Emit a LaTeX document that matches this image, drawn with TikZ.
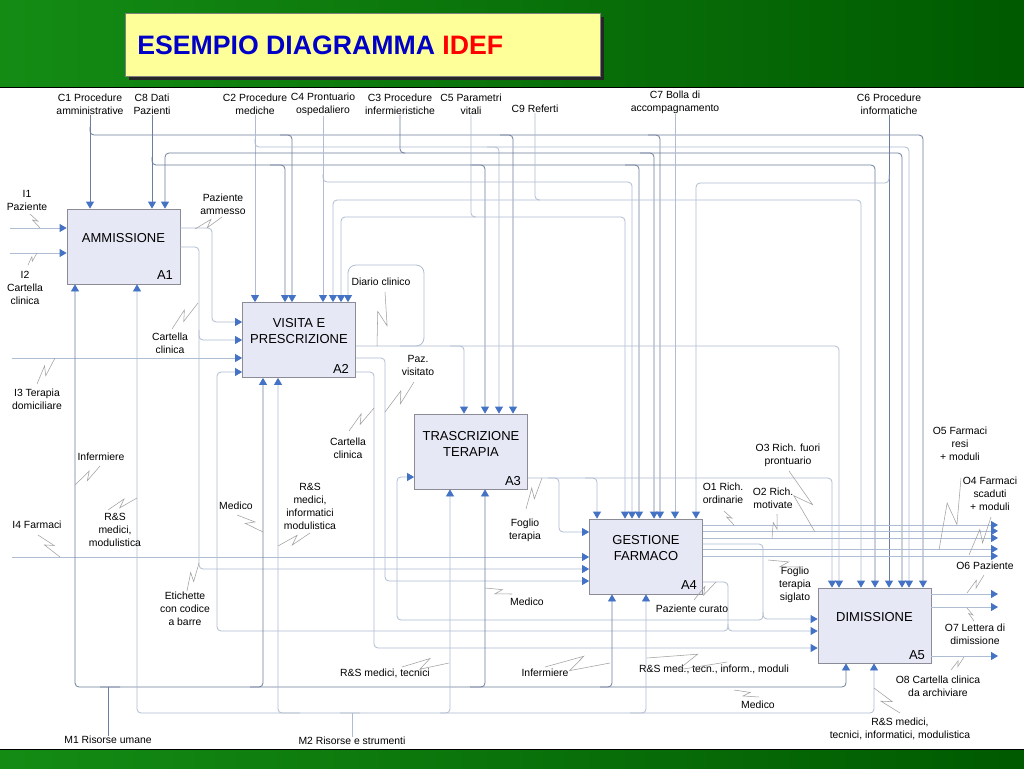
\documentclass[tikz,border=0pt]{standalone}
\usepackage{fontspec}
\setmainfont{Liberation Sans}
\usetikzlibrary{arrows.meta,calc}
\definecolor{arrowblue}{RGB}{68,114,196}
\definecolor{lnlight}{RGB}{175,189,210}
\definecolor{lndark}{RGB}{108,126,155}
\definecolor{boxfill}{RGB}{230,233,245}
\definecolor{boxdraw}{RGB}{140,140,150}
\definecolor{titleyel}{RGB}{255,255,153}
\definecolor{titleblue}{RGB}{0,0,200}
\definecolor{gleft}{RGB}{20,140,20}
\definecolor{gright}{RGB}{0,90,0}
\newcommand\sqz[2]{\draw[sqs] (#1) -- ($(#1)!0.62!12:(#2)$) -- ($(#1)!0.38!-12:(#2)$) -- (#2);}
\begin{document}
\begin{tikzpicture}[x=0.75pt,y=-0.75pt,
  abox/.style={draw=boxdraw,fill=boxfill,line width=0.6pt,minimum width=84.75pt,minimum height=56.25pt,inner sep=0pt},
  btxt/.style={font=\fontsize{9.75}{12}\selectfont,align=center,inner sep=0pt},
  lbl/.style={font=\fontsize{7.8}{9.75}\selectfont,align=center,inner sep=0pt},
  ln/.style={draw=lnlight,line width=0.6pt,rounded corners=3pt},
  lnd/.style={ln,draw=lndark},
  arr/.style={-{Triangle[width=6pt,length=5.25pt,color=arrowblue]}},
  sqs/.style={draw=gray!75,line width=0.4pt}]
\useasboundingbox (0,0) rectangle (1024,768);
\fill[white] (0,0) rectangle (1024,768);
% header and footer
\shade[left color=gleft,right color=gright] (0,0) rectangle (1024,87);
\draw[black,line width=1pt] (0,87.5) -- (1024,87.5);
\shade[left color=gleft,right color=gright] (0,750) rectangle (1024,768);
\draw[black,line width=1pt] (0,749.5) -- (1024,749.5);
\fill[black!85] (129,17) rectangle (604,80);
\draw[fill=titleyel,draw=gray] (125,13) rectangle (600,76);
\node[anchor=west,inner sep=0pt,font=\fontsize{20}{24}\selectfont\bfseries] (T) at (137,45) {\textcolor{titleblue}{ESEMPIO DIAGRAMMA} \textcolor{red}{IDEF}};

% boxes
\node[abox] (A1) at (123.5,246.5) {};
\node[btxt] (A1t) at (123.5,238) {AMMISSIONE};
\node[btxt] (A1n) at (165,275) {A1};
\node[abox] (A2) at (299,340) {};
\node[btxt] (A2t) at (299,331) {VISITA E\\PRESCRIZIONE};
\node[btxt] (A2n) at (341,369) {A2};
\node[abox] (A3) at (471,451.5) {};
\node[btxt] (A3t) at (471,443.5) {TRASCRIZIONE\\TERAPIA};
\node[btxt] (A3n) at (513,481) {A3};
\node[abox] (A4) at (646,556.5) {};
\node[btxt] (A4t) at (646,548) {GESTIONE\\FARMACO};
\node[btxt] (A4n) at (689,585) {A4};
\node[abox] (A5) at (874.5,625.5) {};
\node[btxt] (A5t) at (874.5,617) {DIMISSIONE};
\node[btxt] (A5n) at (917,655) {A5};

% control labels
\node[lbl] (C1) at (90,104.5) {C1 Procedure\\amministrative};
\node[lbl] (C8) at (152,104.5) {C8 Dati\\Pazienti};
\node[lbl] (C2) at (255,104.5) {C2 Procedure\\mediche};
\node[lbl] (C4) at (323,104.5) {C4 Prontuario\\ospedaliero};
\node[lbl] (C3) at (400,104.5) {C3 Procedure\\infermieristiche};
\node[lbl] (C5) at (471,104.5) {C5 Parametri\\vitali};
\node[lbl] (C9) at (535,109) {C9 Referti};
\node[lbl] (C7) at (675,102.5) {C7 Bolla di\\accompagnamento};
\node[lbl] (C6) at (889,104.5) {C6 Procedure\\informatiche};

% C1
\draw[lnd,arr] (C1.south) -- (C1.south |- A1.north);
\draw[lnd,arr] (90,127) |- (923,135) -- (923,0 |- A5.north);
\draw[lnd,arr] (280,135) -| (292,0 |- A2.north);
\draw[lnd,arr] (500,135) -| (513,0 |- A3.north);
\draw[lnd,arr] (648,135) -| (660,0 |- A4.north);
% C2
\draw[ln,arr] (C2.south) -- (C2.south |- A2.north);
\draw[ln,arr] (255,139) |- (909,147) -- (909,0 |- A5.north);
\draw[ln,arr] (487,147) -| (499,0 |- A3.north);
% C3
\draw[lnd,arr] (C3.south) |- (902,153) -- (902,0 |- A5.north);
\draw[lnd,arr] (405,153) -| (165,0 |- A1.north);
\draw[lnd,arr] (640,153) -| (654,0 |- A4.north);
% C8
\draw[lnd,arr] (C8.south) -- (C8.south |- A1.north);
\draw[lnd,arr] (152,157) |- (875,165) -- (875,0 |- A5.north);
\draw[lnd,arr] (270,165) -| (285,0 |- A2.north);
\draw[lnd,arr] (470,165) -| (485,0 |- A3.north);
\draw[lnd,arr] (625,165) -| (639,0 |- A4.north);
% C4
\draw[ln,arr] (C4.south) -- (C4.south |- A2.north);
\draw[ln,arr] (323,174) |- (632,182) -- (632,0 |- A4.north);
% C6
\draw[lnd,arr] (C6.south) -- (C6.south |- A5.north);
\draw[ln,arr] (889,175) |- (696,183) -- (696,0 |- A4.north);
% C9
\draw[ln,arr] (C9.south) |- (861,200) -- (861,0 |- A5.north);
\draw[ln,arr] (540,200) -| (333,0 |- A2.north);
% C5
\draw[ln,arr] (C5.south) |- (625,217) -- (625,0 |- A4.north);
\draw[ln,arr] (476,217) -| (341,0 |- A2.north);
% C7
\draw[ln,arr] (C7.south) -- (C7.south |- A4.north);

% inputs
\draw[ln,arr] (10,228) -- (A1.west |- 0,228);
\draw[ln,arr] (10,253) -- (A1.west |- 0,253);
\draw[ln,arr] (12,358) -- (A2.west |- 0,358);
\draw[ln,arr] (12,557) -- (A4.west |- 0,557);

% A1 outputs
\draw[ln,arr] (A1.east |- 0,228) -| (212,280) |- (A2.west |- 0,322);
\draw[ln,arr] (A1.east |- 0,247) -| (199,400) |- (A4.west |- 0,569);
\draw[ln,arr] (199,330) |- (A2.west |- 0,340);

% A2 outputs
\draw[ln,arr] (A2.east |- 0,346) -| (839,0 |- A5.north);
\draw[ln,arr] (450,346) -| (464,0 |- A3.north);
\draw[ln,arr,rounded corners=6pt] (400,346) -| (424,265) -| (348,0 |- A2.north);
\draw[ln,arr] (A2.east |- 0,358) -| (385,470) |- (A4.west |- 0,581);
\draw[ln,arr] (A2.east |- 0,372) -| (374,500) |- (A5.west |- 0,648);

% A3 outputs
\draw[ln,arr] (A3.east |- 0,478) -| (832,0 |- A5.north);
\draw[ln,arr] (585,478) -| (597,0 |- A4.north);
\draw[ln,arr] (548,478) -| (559,510) |- (A4.west |- 0,532);

% A4 outputs
\draw[ln,arr] (A4.east |- 0,525) -- (998,525);
\draw[ln,arr] (A4.east |- 0,531) -- (998,531);
\draw[ln,arr] (A4.east |- 0,538) -- (998,538);
\draw[ln,arr] (A4.east |- 0,549) -- (998,549);
\draw[ln,arr] (A4.east |- 0,556) -- (998,556);
\draw[ln,arr] (A4.east |- 0,544) -| (763,600) |- (A5.west |- 0,619);
\draw[ln,arr] (763,612) |- (397,620) |- (A3.west |- 0,477);
\draw[ln,arr] (A4.east |- 0,582) -| (728,620) |- (A5.west |- 0,631);
\draw[ln,arr] (728,624) |- (217,631) |- (A2.west |- 0,372);

% A5 outputs
\draw[ln,arr] (A5.east |- 0,594) -- (998,594);
\draw[ln,arr] (A5.east |- 0,607) -- (998,607);
\draw[ln,arr] (A5.east |- 0,656) -- (998,656);

% mechanisms
\node[lbl] (M1) at (108,740) {M1 Risorse umane};
\node[lbl] (M2) at (352,741) {M2 Risorse e strumenti};
\draw[lnd] (M1.north) -- (108,687);
\draw[lnd,arr] (120,687) -| (75,0 |- A1.south);
\draw[lnd,arr] (100,687) -| (263,0 |- A2.south);
\draw[lnd,arr] (250,687) -| (485,0 |- A3.south);
\draw[lnd,arr] (470,687) -| (612,0 |- A4.south);
\draw[lnd,arr] (600,687) -| (846,0 |- A5.south);
\draw[ln] (M2.north) -- (352,713);
\draw[ln,arr] (360,713) -| (137,0 |- A1.south);
\draw[ln,arr] (300,713) -| (278,0 |- A2.south);
\draw[ln,arr] (340,713) -| (450,0 |- A3.south);
\draw[ln,arr] (440,713) -| (646,0 |- A4.south);
\draw[ln,arr] (630,713) -| (874,0 |- A5.south);

% labels
\node[lbl] (I1) at (27,200.5) {I1\\Paziente};
\node[lbl] (I2) at (25,288) {I2\\Cartella\\clinica};
\node[lbl] (L1) at (223,204.5) {Paziente\\ammesso};
\node[lbl] (L2) at (170,343.5) {Cartella\\clinica};
\node[lbl] (I3) at (37,399.5) {I3 Terapia\\domiciliare};
\node[lbl] (L3) at (381,282) {Diario clinico};
\node[lbl] (L4) at (418,365.5) {Paz.\\visitato};
\node[lbl] (L5) at (348,448) {Cartella\\clinica};
\node[lbl] (L6) at (101,457) {Infermiere};
\node[lbl] (L7) at (115,530) {R\&S\\medici,\\modulistica};
\node[lbl] (I4) at (37,525) {I4 Farmaci};
\node[lbl] (L8) at (236,506) {Medico};
\node[lbl] (L9) at (310,506.5) {R\&S\\medici,\\informatici\\modulistica};
\node[lbl] (L10) at (185,609) {Etichette\\con codice\\a barre};
\node[lbl] (L11) at (525,530.5) {Foglio\\terapia};
\node[lbl] (L12) at (527,602) {Medico};
\node[lbl] (L13) at (692,609) {Paziente curato};
\node[lbl] (O1) at (723,493.5) {O1 Rich.\\ordinarie};
\node[lbl] (O2) at (773,498.5) {O2 Rich.\\motivate};
\node[lbl] (O3) at (788,455.5) {O3 Rich. fuori\\prontuario};
\node[lbl] (O5) at (960,444) {O5 Farmaci\\resi\\+ moduli};
\node[lbl] (O4) at (990,494) {O4 Farmaci\\scaduti\\+ moduli};
\node[lbl] (O6) at (985,566) {O6 Paziente};
\node[lbl] (O7) at (975,634.5) {O7 Lettera di\\dimissione};
\node[lbl] (O8) at (938,686.5) {O8 Cartella clinica\\da archiviare};
\node[lbl] (L14) at (795,585) {Foglio\\terapia\\siglato};
\node[lbl] (L15) at (385,673) {R\&S medici, tecnici};
\node[lbl] (L16) at (545,673) {Infermiere};
\node[lbl] (L17) at (714,669) {R\&S med., tecn., inform., moduli};
\node[lbl] (L18) at (758,705) {Medico};
\node[lbl] (L19) at (900,728.5) {R\&S medici,\\tecnici, informatici, modulistica};

% squiggles
\sqz{30,214}{40,228}
\sqz{28,265}{37,253}
\sqz{222,217}{195,229}
\sqz{172,329}{198,303}
\sqz{37,384}{55,358}
\sqz{385,292}{377,346}
\sqz{414,382}{385,412}
\sqz{349,431}{374,408}
\sqz{100,466}{75,485}
\sqz{108,510}{137,498}
\sqz{38,535}{60,557}
\sqz{237,515}{263,532}
\sqz{310,533}{278,546}
\sqz{187,591}{199,563}
\sqz{526,509}{542,478}
\sqz{512,594}{485,588}
\sqz{694,600}{716,582}
\sqz{724,511}{734,525}
\sqz{777,514}{772,538}
\sqz{789,471}{815,532}
\sqz{961,478}{939,550}
\sqz{991,517}{969,555}
\sqz{984,575}{967,593}
\sqz{967,608}{974,621}
\sqz{964,657}{951,670}
\sqz{800,567}{768,560}
\sqz{402,667}{449,663}
\sqz{545,667}{610,663}
\sqz{727,662}{647,658}
\sqz{759,697}{734,690}
\sqz{900,713}{874,688}
\end{tikzpicture}
\end{document}
